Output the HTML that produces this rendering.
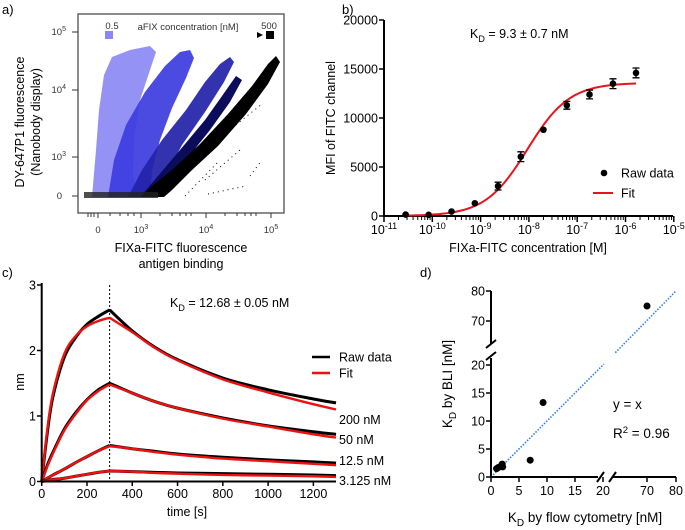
<!DOCTYPE html>
<html><head><meta charset="utf-8"><style>
html,body{margin:0;padding:0;background:#fff;}
svg{display:block;font-family:"Liberation Sans",Arial,sans-serif;}
</style></head><body>
<svg id="fig" width="685" height="530" viewBox="0 0 685 530" xmlns="http://www.w3.org/2000/svg">
<text x="2" y="14" font-size="13">a)</text>
<text x="342" y="14" font-size="13">b)</text>
<text x="2" y="277" font-size="13">c)</text>
<text x="420" y="277" font-size="13">d)</text>

<g id="pa">
<rect x="78" y="14" width="206" height="199" fill="#fff" stroke="#666" stroke-width="1.5"/>
<g>
<polygon points="92,197 96,150 99,110 104,75 112,57 130,50 150,46 156,52 150,70 140,100 134,140 133,175 138,197" fill="#8a86f5" opacity="0.9"/>
<polygon points="108,197 114,160 126,125 145,92 165,66 180,52 190,50 194,58 186,78 172,108 160,140 152,170 150,197" fill="#3c3ce0" opacity="0.92"/>
<polygon points="128,197 142,170 162,140 186,110 205,82 220,64 230,57 234,62 224,82 205,112 182,145 166,175 158,197" fill="#2222a8" opacity="0.92"/>
<polygon points="140,197 158,176 180,150 205,120 222,96 236,76 242,80 230,102 210,130 186,160 168,184 160,197" fill="#0c0c5c"/>
<polygon points="140,197 152,186 172,170 200,144 228,114 252,86 268,64 276,56 280,62 268,84 246,114 218,146 192,170 172,190 164,197" fill="#000"/>
<rect x="84" y="192" width="74" height="6" fill="#222" opacity="0.8"/>
<path d="M185,196 L218,162 M205,180 L240,150 M232,128 L262,104 M250,176 L262,160 M208,194 L246,186" stroke="#000" stroke-width="1" stroke-dasharray="1 4"/>
</g>
<g>
<defs><linearGradient id="gl" x1="0" x2="1"><stop offset="0" stop-color="#9a96ff"/><stop offset="1" stop-color="#000"/></linearGradient></defs>
<rect x="105" y="31" width="8" height="8" fill="#8a86f5"/>
<rect x="266" y="31" width="8" height="8" fill="#000"/>
<line x1="121" y1="35" x2="260" y2="35" stroke="url(#gl)" stroke-width="1.2"/>
<polygon points="263,35 257,32 257,38" fill="#000"/>
<text x="112" y="29" font-size="9.5" text-anchor="middle" fill="#333">0.5</text>
<text x="188" y="30" font-size="9.5" text-anchor="middle" fill="#333">aFIX concentration [nM]</text>
<text x="269" y="29" font-size="9.5" text-anchor="middle" fill="#333">500</text>
</g>
<g font-size="9.5" fill="#333">
<text x="66" y="35" text-anchor="end">10<tspan dy="-4" font-size="7">5</tspan></text>
<text x="66" y="93" text-anchor="end">10<tspan dy="-4" font-size="7">4</tspan></text>
<text x="66" y="160" text-anchor="end">10<tspan dy="-4" font-size="7">3</tspan></text>
<text x="62" y="199" text-anchor="end">0</text>
<path d="M72,32h6M72,90h6M72,157h6M72,196h6" stroke="#333"/>
</g>
<g font-size="9.5" fill="#333">
<text x="98" y="233" text-anchor="middle">0</text>
<text x="141" y="233" text-anchor="middle">10<tspan dy="-4" font-size="7">3</tspan></text>
<text x="206" y="233" text-anchor="middle">10<tspan dy="-4" font-size="7">4</tspan></text>
<text x="271" y="233" text-anchor="middle">10<tspan dy="-4" font-size="7">5</tspan></text>
<path d="M88,213v4M91,213v4M94,213v4M98,213v5M141,213v5M206,213v5M271,213v5M160,213v3M172,213v3M180,213v3M186,213v3M191,213v3M225,213v3M237,213v3M245,213v3M251,213v3M256,213v3M110,213v3M120,213v3M128,213v3M134,213v3" stroke="#333"/>
</g>
<text x="181" y="252" font-size="12.5" text-anchor="middle">FIXa-FITC fluorescence</text>
<text x="181" y="268" font-size="12.5" text-anchor="middle">antigen binding</text>
<text transform="translate(24,122) rotate(-90)" font-size="12.5" text-anchor="middle">DY-647P1 fluorescence</text>
<text transform="translate(40,122) rotate(-90)" font-size="12.5" text-anchor="middle">(Nanobody display)</text>
</g>

<g id="pb"></g>
<g id="pc"></g>
<g id="pd"></g>
</svg>
<script>
// ---- Panel b data ----
const bConc = [2.8e-11, 8.4e-11, 2.5e-10, 7.6e-10, 2.3e-9, 6.8e-9, 2.0e-8, 6.1e-8, 1.8e-7, 5.5e-7, 1.65e-6];
const bMFI = [150, 120, 450, 1300, 3050, 6050, 8800, 11300, 12400, 13500, 14600];
const bErr = [0, 0, 0, 0, 400, 500, 0, 400, 450, 500, 500];
const bYTicks = [0, 5000, 10000, 15000, 20000];
const bXDecades = [-11, -10, -9, -8, -7, -6, -5];
const bFitTop = 13600;
const bFitEC50 = 9.3e-9;
const bFitHill = 1;
// ---- Panel c data ----
const cTimes = [0, 25, 50, 100, 150, 200, 250, 300, 400, 500, 600, 800, 1000, 1200, 1300];
const cRaw200 = [0, 0.75, 1.3, 1.9, 2.2, 2.4, 2.52, 2.62, 2.3, 2.05, 1.86, 1.58, 1.4, 1.26, 1.2];
const cFit200 = [0, 0.8, 1.35, 1.95, 2.22, 2.37, 2.45, 2.5, 2.28, 2.04, 1.85, 1.56, 1.36, 1.18, 1.1];
const cRaw50 = [0, 0.25, 0.45, 0.8, 1.05, 1.25, 1.4, 1.5, 1.35, 1.22, 1.12, 0.97, 0.85, 0.76, 0.72];
const cFit50 = [0, 0.23, 0.43, 0.78, 1.03, 1.24, 1.38, 1.48, 1.35, 1.22, 1.12, 0.96, 0.84, 0.72, 0.67];
const cRaw12 = [0, 0.05, 0.1, 0.19, 0.29, 0.38, 0.47, 0.55, 0.5, 0.46, 0.42, 0.37, 0.33, 0.3, 0.28];
const cFit12 = [0, 0.05, 0.1, 0.19, 0.29, 0.38, 0.47, 0.54, 0.5, 0.45, 0.41, 0.35, 0.31, 0.27, 0.25];
const cRaw3 = [0, 0.015, 0.03, 0.05, 0.08, 0.11, 0.14, 0.16, 0.15, 0.14, 0.13, 0.12, 0.11, 0.1, 0.09];
const cFit3 = [0, 0.015, 0.03, 0.05, 0.08, 0.11, 0.14, 0.16, 0.15, 0.13, 0.12, 0.1, 0.09, 0.08, 0.07];
const cSeriesLabels = ["200 nM", "50 nM", "12.5 nM", "3.125 nM"];
const cXTicks = [0, 200, 400, 600, 800, 1000, 1200];
const cYTicks = [0, 1, 2, 3];
// ---- Panel d data ----
const dFlow = [1.0, 1.3, 1.8, 2.0, 2.1, 7.0, 9.3, 70];
const dBLI = [1.5, 1.7, 2.0, 2.3, 1.8, 3.0, 13.3, 75];
const dXTicks = [0, 5, 10, 15, 20, 70, 80];
const dYTicks = [0, 5, 10, 15, 20, 70, 80];

const NS = "http://www.w3.org/2000/svg";
function mk(parent, tag, attrs, text) {
  const e = document.createElementNS(NS, tag);
  for (const k in attrs) e.setAttribute(k, attrs[k]);
  if (text !== undefined) e.textContent = text;
  parent.appendChild(e);
  return e;
}
function spline(pts) {
  let d = "M" + pts[0][0] + "," + pts[0][1];
  for (let i = 0; i < pts.length - 1; i++) {
    const p0 = pts[Math.max(0, i - 1)], p1 = pts[i], p2 = pts[i + 1], p3 = pts[Math.min(pts.length - 1, i + 2)];
    const c1 = [p1[0] + (p2[0] - p0[0]) / 6, p1[1] + (p2[1] - p0[1]) / 6];
    const c2 = [p2[0] - (p3[0] - p1[0]) / 6, p2[1] - (p3[1] - p1[1]) / 6];
    d += "C" + c1[0] + "," + c1[1] + " " + c2[0] + "," + c2[1] + " " + p2[0] + "," + p2[1];
  }
  return d;
}

// ===== Panel b =====
(function () {
  const g = document.getElementById("pb");
  const x = c => 384 + (Math.log10(c) + 11) * 48.3;
  const y = v => 216 - v * 196 / 20000;
  let e;
  e = mk(g, "path", { d: "M384,20V216H673", stroke: "#000", "stroke-width": 2, fill: "none" });
  
  
  bYTicks.forEach(v => {
    e = mk(g, "line", { x1: 379, x2: 384, y1: y(v), y2: y(v), stroke: "#000", "stroke-width": 1.5 });
    
    
    e = mk(g, "text", { x: 378, y: y(v) + 4.5, "font-size": 12.5, "text-anchor": "end" }, String(v));
    
    
  });
  bXDecades.forEach((p, i) => {
    const xp = x(Math.pow(10, p));
    e = mk(g, "line", { x1: xp, x2: xp, y1: 216, y2: 222, stroke: "#000", "stroke-width": 1.5 });
    
    
    if (i < bXDecades.length - 1) for (let m = 2; m < 10; m++) {
      const xm = x(m * Math.pow(10, p));
      e = mk(g, "line", { x1: xm, x2: xm, y1: 216, y2: 220, stroke: "#000", "stroke-width": 1 });
      
      
    }
    const t = mk(g, "text", { x: xp, y: 234, "font-size": 12.5, "text-anchor": "middle" });
    
    
    t.appendChild(document.createTextNode("10"));
    mk(t, "tspan", { dy: -5, "font-size": 9 }, String(p));
  });
  const fp = [];
  const l0 = Math.log10(bConc[0]), l1 = Math.log10(bConc[bConc.length - 1]);
  for (let i = 0; i <= 80; i++) {
    const c = Math.pow(10, l0 + (l1 - l0) * i / 80);
    const v = bFitTop / (1 + Math.pow(bFitEC50 / c, bFitHill));
    fp.push(x(c).toFixed(2) + "," + y(v).toFixed(2));
  }
  e = mk(g, "polyline", { points: fp.join(" "), fill: "none", stroke: "#e8141b", "stroke-width": 2 });
  
  
  bConc.forEach((c, i) => {
    const cx = x(c), cy = y(bMFI[i]);
    if (bErr[i] > 0) {
      const y1 = y(bMFI[i] + bErr[i]), y2 = y(bMFI[i] - bErr[i]);
      e = mk(g, "path", { d: `M${cx},${y1}V${y2}M${cx - 3.5},${y1}h7M${cx - 3.5},${y2}h7`, stroke: "#000", "stroke-width": 1.3, fill: "none" });
      
      
    }
    e = mk(g, "circle", { cx: cx, cy: cy, r: 3.3, fill: "#000" });
    
    
  });
  e = mk(g, "circle", { cx: 604, cy: 173, r: 3.3, fill: "#000" });
  
  
  e = mk(g, "text", { x: 621, y: 177.5, "font-size": 12.5 }, "Raw data");
  
  
  e = mk(g, "line", { x1: 593, x2: 613, y1: 193, y2: 193, stroke: "#e8141b", "stroke-width": 2 });
  
  
  e = mk(g, "text", { x: 621, y: 197.5, "font-size": 12.5 }, "Fit");
  
  
  const kt = mk(g, "text", { x: 470, y: 38, "font-size": 12.5 });
  
  
  kt.appendChild(document.createTextNode("K"));
  mk(kt, "tspan", { dy: 4, "font-size": 9 }, "D");
  mk(kt, "tspan", { dy: -4 }, " = 9.3 ± 0.7 nM");
  e = mk(g, "text", { transform: "translate(335,118) rotate(-90)", "font-size": 12.5, "text-anchor": "middle" }, "MFI of FITC channel");
  
  
  e = mk(g, "text", { x: 528, y: 252, "font-size": 12.5, "text-anchor": "middle" }, "FIXa-FITC concentration [M]");
  
  
})();

// ===== Panel c =====
(function () {
  const g = document.getElementById("pc");
  const x = t => 41.7 + t * 0.2264;
  const y = v => 481.5 - v * 65.5;
  let e;
  e = mk(g, "line", { x1: x(300), x2: x(300), y1: 285, y2: 481, stroke: "#000", "stroke-width": 1, "stroke-dasharray": "2 2" });
  
  
  const series = [[cRaw200, cFit200], [cRaw50, cFit50], [cRaw12, cFit12], [cRaw3, cFit3]];
  const drawSeries = (vals, color, w, name) => {
    const ia = cTimes.indexOf(300);
    const a = cTimes.slice(0, ia + 1).map((t, i) => [x(t), y(vals[i])]);
    const b = cTimes.slice(ia).map((t, i) => [x(t), y(vals[i + ia])]);
    const p = mk(g, "path", { d: spline(a) + " " + spline(b), fill: "none", stroke: color, "stroke-width": w, "stroke-linejoin": "round" });
    
    
  };
  series.forEach((s, i) => {
    drawSeries(s[0], "#000", 3, "raw-curve-" + i);
    drawSeries(s[1], "#ee1111", 2.4, "fit-curve-" + i);
  });
  e = mk(g, "path", { d: `M${x(0)},283V481.5H${x(1300)}`, stroke: "#000", "stroke-width": 2, fill: "none" });
  
  
  cYTicks.forEach(v => {
    e = mk(g, "line", { x1: 37, x2: 41.7, y1: y(v), y2: y(v), stroke: "#000", "stroke-width": 1.5 });
    
    
    e = mk(g, "text", { x: 36, y: y(v) + 4.5, "font-size": 12.5, "text-anchor": "end" }, String(v));
    
    
  });
  cXTicks.forEach(t => {
    e = mk(g, "line", { x1: x(t), x2: x(t), y1: 481.5, y2: 486, stroke: "#000", "stroke-width": 1.5 });
    
    
    e = mk(g, "text", { x: x(t), y: 498, "font-size": 12.5, "text-anchor": "middle" }, String(t));
    
    
  });
  const labY = [424, 444, 465, 485];
  cSeriesLabels.forEach((l, i) => {
    e = mk(g, "text", { x: 339, y: labY[i], "font-size": 12.5 }, l);
    
    
  });
  e = mk(g, "line", { x1: 312, x2: 330, y1: 357, y2: 357, stroke: "#000", "stroke-width": 2.5 });
  
  
  e = mk(g, "text", { x: 339, y: 361.5, "font-size": 12.5 }, "Raw data");
  
  
  e = mk(g, "line", { x1: 312, x2: 330, y1: 373, y2: 373, stroke: "#ee1111", "stroke-width": 2.5 });
  
  
  e = mk(g, "text", { x: 339, y: 377.5, "font-size": 12.5 }, "Fit");
  
  
  const kt = mk(g, "text", { x: 170, y: 307, "font-size": 12.5 });
  
  
  kt.appendChild(document.createTextNode("K"));
  mk(kt, "tspan", { dy: 4, "font-size": 9 }, "D");
  mk(kt, "tspan", { dy: -4 }, " = 12.68 ± 0.05 nM");
  e = mk(g, "text", { transform: "translate(24,382) rotate(-90)", "font-size": 12.5, "text-anchor": "middle" }, "nm");
  
  
  e = mk(g, "text", { x: 187, y: 516, "font-size": 12.5, "text-anchor": "middle" }, "time [s]");
  
  
})();

// ===== Panel d =====
(function () {
  const g = document.getElementById("pd");
  const x = v => v <= 20 ? 491 + v * 5.6 : (v >= 70 ? 647 + (v - 70) * 2.9 : 603 + (v - 20) / 50 * 44);
  const y = v => v <= 20 ? 477 - v * 5.6 : (v >= 70 ? 321 - (v - 70) * 3.0 : 365 - (v - 20) / 50 * 44);
  let e;
  const seg = (a, b, name) => {
    e = mk(g, "line", { x1: x(a), y1: y(a), x2: x(b), y2: y(b), stroke: "#2f7fe8", "stroke-width": 1.6, "stroke-dasharray": "1.5 1.5" });
    
    
  };
  seg(0, 21, "identity-line-lower");
  seg(34, 80, "identity-line-upper");
  e = mk(g, "path", { d: `M491,291V344M491,358V477H598M612,477H676`, stroke: "#000", "stroke-width": 2, fill: "none" });
  
  
  e = mk(g, "path", { d: "M486,348L496,340M486,360L496,352M597,482L604,472M609,482L616,472", stroke: "#000", "stroke-width": 2 });
  
  
  dYTicks.forEach(v => {
    e = mk(g, "line", { x1: 486, x2: 491, y1: y(v), y2: y(v), stroke: "#000", "stroke-width": 1.5 });
    
    
    e = mk(g, "text", { x: 485, y: y(v) + 4.5, "font-size": 12.5, "text-anchor": "end" }, String(v));
    
    
  });
  dXTicks.forEach(v => {
    e = mk(g, "line", { x1: x(v), x2: x(v), y1: 477, y2: 482, stroke: "#000", "stroke-width": 1.5 });
    
    
    e = mk(g, "text", { x: x(v), y: 495, "font-size": 12.5, "text-anchor": "middle" }, String(v));
    
    
  });
  dFlow.forEach((v, i) => {
    e = mk(g, "circle", { cx: x(v), cy: y(dBLI[i]), r: 3.5, fill: "#000" });
    
    
  });
  e = mk(g, "text", { x: 613, y: 409, "font-size": 13.5 }, "y = x");
  
  
  const r = mk(g, "text", { x: 613, y: 438, "font-size": 13.5 });
  
  
  r.appendChild(document.createTextNode("R"));
  mk(r, "tspan", { dy: -5, "font-size": 9.5 }, "2");
  mk(r, "tspan", { dy: 5 }, " = 0.96");
  const yt = mk(g, "text", { transform: "translate(452,384) rotate(-90)", "font-size": 13.5, "text-anchor": "middle" });
  
  
  yt.appendChild(document.createTextNode("K"));
  mk(yt, "tspan", { dy: 4, "font-size": 10 }, "D");
  mk(yt, "tspan", { dy: -4 }, " by BLI [nM]");
  const xt = mk(g, "text", { x: 585, y: 522, "font-size": 13.5, "text-anchor": "middle" });
  
  
  xt.appendChild(document.createTextNode("K"));
  mk(xt, "tspan", { dy: 4, "font-size": 10 }, "D");
  mk(xt, "tspan", { dy: -4 }, " by flow cytometry [nM]");
})();
</script>
</body></html>
